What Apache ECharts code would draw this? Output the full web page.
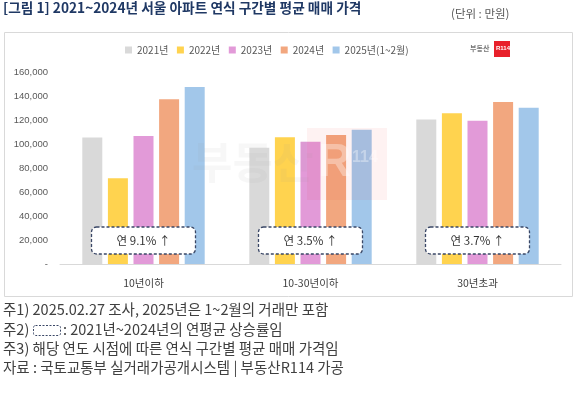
<!DOCTYPE html>
<html>
<head>
<meta charset="utf-8">
<script src="https://cdn.jsdelivr.net/npm/echarts@6/dist/echarts.min.js"></script>
<style>
  html, body { margin: 0; padding: 0; background: #fff; }
  #chart { width: 580px; height: 396px; }
</style>
</head>
<body>
<div id="chart"></div>
<script>
const categories = ["10년이하", "10-30년이하", "30년초과"];
const years = ["2021년", "2022년", "2023년", "2024년", "2025년(1~2월)"];
const colors = ["#d9d9d9", "#ffd34f", "#e29ad8", "#f2a77f", "#a2c7ea"];
// 만원, one array per year
const v2021 = [105500, 96900, 120500];
const v2022 = [71400, 105600, 125600];
const v2023 = [106700, 101900, 119400];
const v2024 = [137200, 107500, 135000];
const v2025 = [147500, 111900, 130300];
const rates = ["9.1%", "3.5%", "3.7%"];
const yTicks = [0, 20000, 40000, 60000, 80000, 100000, 120000, 140000, 160000];

const values = [v2021, v2022, v2023, v2024, v2025];
const font = '"Noto Sans CJK KR", "Noto Sans", sans-serif';

const chart = echarts.init(document.getElementById("chart"));

const barSeries = years.map(function (name, i) {
  return {
    name: name,
    type: "bar",
    data: values[i],
    barWidth: 20,
    barGap: "28%",
    itemStyle: { color: colors[i] },
    silent: true,
  };
});

const noteSeries = {
  type: "custom",
  z: 5,
  silent: true,
  data: categories.map(function (c, i) { return [i, 20000]; }),
  renderItem: function (params, api) {
    const p = api.coord([api.value(0), api.value(1)]);
    return {
      type: "group",
      children: [
        {
          type: "rect",
          shape: { x: p[0] - 52, y: p[1] - 13, width: 104, height: 27, r: 5 },
          style: { fill: "#fff", stroke: "#3a4766", lineWidth: 1.3, lineDash: [3, 2] },
        },
        {
          type: "text",
          style: {
            x: p[0], y: p[1] + 0.5,
            text: "연 " + rates[params.dataIndex] + " ↑",
            align: "center", verticalAlign: "middle",
            font: "11.5px " + font, fill: "#333",
          },
        },
      ],
    };
  },
};

const notes = [
  "주1) 2025.02.27 조사, 2025년은 1~2월의 거래만 포함",
  "주3) 해당 연도 시점에 따른 연식 구간별 평균 매매 가격임",
  "자료 : 국토교통부 실거래가공개시스템 | 부동산R114 가공",
];
const noteFont = "14.5px " + font;

const option = {
  animation: false,
  textStyle: { fontFamily: font },
  grid: { left: 60, right: 19, top: 72, bottom: 132, containLabel: false },
  legend: {
    data: years,
    left: 125,
    top: 45,
    padding: 0,
    icon: "rect",
    itemWidth: 7,
    itemHeight: 7,
    itemGap: 8.5,
    textStyle: { fontSize: 10, color: "#595959", fontFamily: font },
  },
  xAxis: {
    type: "category",
    data: categories,
    axisLine: { lineStyle: { color: "#d9d9d9" } },
    axisTick: { show: false },
    axisLabel: { fontSize: 10.5, color: "#404040", margin: 14 },
  },
  yAxis: {
    type: "value",
    min: yTicks[0],
    max: yTicks[yTicks.length - 1],
    interval: yTicks[1] - yTicks[0],
    splitLine: { show: false },
    axisLine: { show: false },
    axisTick: { show: false },
    axisLabel: {
      fontSize: 9.5,
      color: "#595959",
      fontFamily: "Liberation Sans, Arial, sans-serif",
      margin: 12,
      formatter: function (v) { return v === 0 ? "-" : v.toLocaleString("en-US"); },
    },
  },
  graphic: [
    // title + unit
    { type: "text", left: 3, top: 1, style: { text: "[그림 1] 2021~2024년 서울 아파트 연식 구간별 평균 매매 가격", font: "bold 13.7px " + font, fill: "#1f3864" } },
    { type: "text", left: 451, top: 8, style: { text: "(단위 : 만원)", font: "11.5px " + font, fill: "#595959" } },
    // chart frame
    { type: "rect", shape: { x: 4.5, y: 32.5, width: 568, height: 264 }, style: { fill: "none", stroke: "#d9d9d9", lineWidth: 1 }, z: -1 },
    // logo
    { type: "text", left: 470, top: 45, style: { text: "부동산", font: "bold 7px " + font, fill: "#777" } },
    { type: "rect", shape: { x: 494, y: 41, width: 16, height: 16 }, style: { fill: "#e8202a" } },
    { type: "text", left: 496, top: 45, style: { text: "R114", font: "bold 6px Liberation Sans, sans-serif", fill: "#fff" } },
    // watermark
    { type: "rect", z: 10, silent: true, shape: { x: 307, y: 128, width: 80, height: 72 }, style: { fill: "#e8202a", opacity: 0.06 } },
    { type: "text", z: 10, silent: true, left: 192, top: 140, style: { text: "부동산", font: "bold 44px " + font, fill: "#999", opacity: 0.08 } },
    { type: "text", z: 10, silent: true, left: 318, top: 140, style: { text: "R", font: "bold 46px Liberation Sans, sans-serif", fill: "#fff", opacity: 0.35 } },
    { type: "text", z: 10, silent: true, left: 352, top: 150, style: { text: "114", font: "bold 16px Liberation Sans, sans-serif", fill: "#fff", opacity: 0.35 } },
    // footnotes
    { type: "text", left: 3, top: 302, style: { text: notes[0], font: noteFont, fill: "#404040" } },
    { type: "text", left: 3, top: 322, style: { text: "주2)", font: noteFont, fill: "#404040" } },
    { type: "rect", shape: { x: 33.5, y: 325.5, width: 27, height: 10, r: 2 }, style: { fill: "none", stroke: "#3a4766", lineWidth: 1, lineDash: [2, 1.5] } },
    { type: "text", left: 63, top: 322, style: { text: ": 2021년~2024년의 연평균 상승률임", font: noteFont, fill: "#404040" } },
    { type: "text", left: 3, top: 341.5, style: { text: notes[1], font: noteFont, fill: "#404040" } },
    { type: "text", left: 3, top: 360.5, style: { text: notes[2], font: noteFont, fill: "#404040" } },
  ],
  series: barSeries.concat([noteSeries]),
};

chart.setOption(option);
</script>
</body>
</html>
